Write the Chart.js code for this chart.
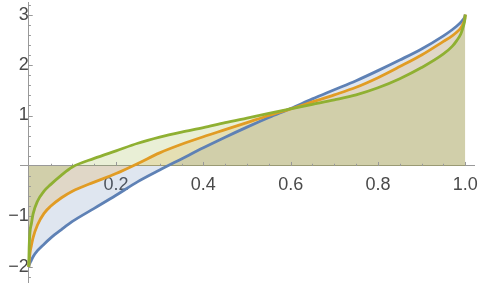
<!DOCTYPE html>
<html>
<head>
<meta charset="utf-8">
<script src="https://cdn.jsdelivr.net/npm/chart.js@4/dist/chart.umd.min.js"></script>
<style>
  html, body { margin: 0; padding: 0; background: #fff; }
  #wrap { width: 480px; height: 284px; position: relative; }
</style>
</head>
<body>
<div id="wrap"><canvas id="plot"></canvas></div>
<script>
const xs = [0, 0.001, 0.003, 0.006, 0.01, 0.02, 0.035, 0.05, 0.075, 0.1, 0.15, 0.2, 0.25, 0.3, 0.35, 0.4,
  0.45, 0.5, 0.55, 0.6, 0.65, 0.7, 0.75, 0.8, 0.85, 0.9, 0.95, 0.97, 0.98, 0.99, 0.995, 0.999, 1];

const blueVals = [-2.0, -1.96, -1.92, -1.87, -1.8, -1.68, -1.55, -1.43, -1.26, -1.1, -0.84, -0.58, -0.31, -0.08, 0.14, 0.36,
  0.57, 0.77, 0.96, 1.14, 1.33, 1.51, 1.69, 1.89, 2.1, 2.32, 2.58, 2.7, 2.77, 2.85, 2.9, 2.96, 3.0];

const orangeVals = [-2.0, -1.88, -1.72, -1.58, -1.42, -1.17, -0.94, -0.8, -0.63, -0.5, -0.32, -0.15, 0.05, 0.26, 0.43, 0.58,
  0.72, 0.86, 1.0, 1.13, 1.27, 1.41, 1.56, 1.75, 1.97, 2.2, 2.47, 2.58, 2.65, 2.74, 2.82, 2.92, 3.0];

const greenVals = [-2.0, -1.6, -1.3, -1.15, -0.95, -0.7, -0.5, -0.37, -0.18, -0.02, 0.15, 0.3, 0.45, 0.57, 0.67, 0.76,
  0.86, 0.95, 1.04, 1.13, 1.22, 1.31, 1.41, 1.55, 1.73, 1.95, 2.22, 2.37, 2.48, 2.62, 2.75, 2.9, 3.0];

const xTickLabels = [0.2, 0.4, 0.6, 0.8, 1.0];
const yTickLabels = [-2, -1, 1, 2, 3];

const axisGray = '#999999';
const labelGray = '#4a4a4a';

function pts(ys) {
  return xs.map((x, i) => ({ x: x, y: ys[i] }));
}

function series(ys, line, fill, order) {
  return {
    data: pts(ys),
    borderColor: line,
    backgroundColor: fill,
    borderWidth: 2.8,
    pointRadius: 0,
    fill: 'origin',
    cubicInterpolationMode: 'monotone',
    order: order
  };
}

// axes sit at the origin, so they must not eat into the chart area
function noSpace(s) {
  s.paddingTop = 0; s.paddingBottom = 0; s.paddingLeft = 0; s.paddingRight = 0;
  if (s.isHorizontal()) s.height = 0; else s.width = 0;
}

// mathematica style small inward ticks, major + minor
const tickMarks = {
  id: 'tickMarks',
  beforeDatasetsDraw(chart) {
    const { ctx, scales: { x, y } } = chart;
    const x0 = x.getPixelForValue(0);
    const y0 = y.getPixelForValue(0);
    ctx.save();
    ctx.strokeStyle = axisGray;
    ctx.lineWidth = 1;
    ctx.beginPath();
    for (let i = 1; i <= 20; i++) {
      const v = i * 0.05;
      const px = Math.round(x.getPixelForValue(v)) + 0.5;
      const len = i % 4 === 0 ? 4 : 2.2;
      ctx.moveTo(px, y0);
      ctx.lineTo(px, y0 - len);
    }
    for (let i = -11; i <= 16; i++) {
      if (i === 0) continue;
      const v = i * 0.2;
      if (v < y.min || v > y.max) continue;
      const py = Math.round(y.getPixelForValue(v)) + 0.5;
      const len = i % 5 === 0 ? 4 : 2.2;
      ctx.moveTo(x0, py);
      ctx.lineTo(x0 + len, py);
    }
    ctx.stroke();
    ctx.restore();
  }
};

new Chart(document.getElementById('plot'), {
  type: 'line',
  data: {
    datasets: [
      series(blueVals, '#5E81B5', 'rgba(94,129,181,0.2)', 3),
      series(orangeVals, '#E19C24', 'rgba(225,156,36,0.2)', 2),
      series(greenVals, '#8FB032', 'rgba(143,176,50,0.2)', 1)
    ]
  },
  options: {
    responsive: true,
    maintainAspectRatio: false,
    animation: false,
    layout: { autoPadding: false, padding: { left: 20, right: 6, top: 2, bottom: 2 } },
    plugins: {
      legend: { display: false },
      tooltip: { enabled: false },
      filler: { drawTime: 'beforeDatasetsDraw' }
    },
    scales: {
      x: {
        type: 'linear',
        min: -0.02,
        max: 1.02,
        position: { y: 0 },
        grid: { display: false, drawTicks: false },
        border: { display: true, color: axisGray, width: 1 },
        afterBuildTicks: (s) => { s.ticks = xTickLabels.map(v => ({ value: v })); },
        afterFit: noSpace,
        ticks: {
          autoSkip: false,
          maxRotation: 0,
          padding: 8,
          color: labelGray,
          font: { family: 'Liberation Sans', size: 18 },
          callback: (v) => v.toFixed(1)
        }
      },
      y: {
        type: 'linear',
        min: -2.3,
        max: 3.25,
        position: { x: 0 },
        grid: { display: false, drawTicks: false },
        border: { display: true, color: axisGray, width: 1 },
        afterBuildTicks: (s) => { s.ticks = yTickLabels.map(v => ({ value: v })); },
        afterFit: noSpace,
        ticks: {
          autoSkip: false,
          padding: 6,
          color: labelGray,
          font: { family: 'Liberation Sans', size: 18 },
          callback: (v) => v < 0 ? '\u2212' + Math.abs(v) : String(v)
        }
      }
    }
  },
  plugins: [tickMarks]
});
</script>
</body>
</html>
